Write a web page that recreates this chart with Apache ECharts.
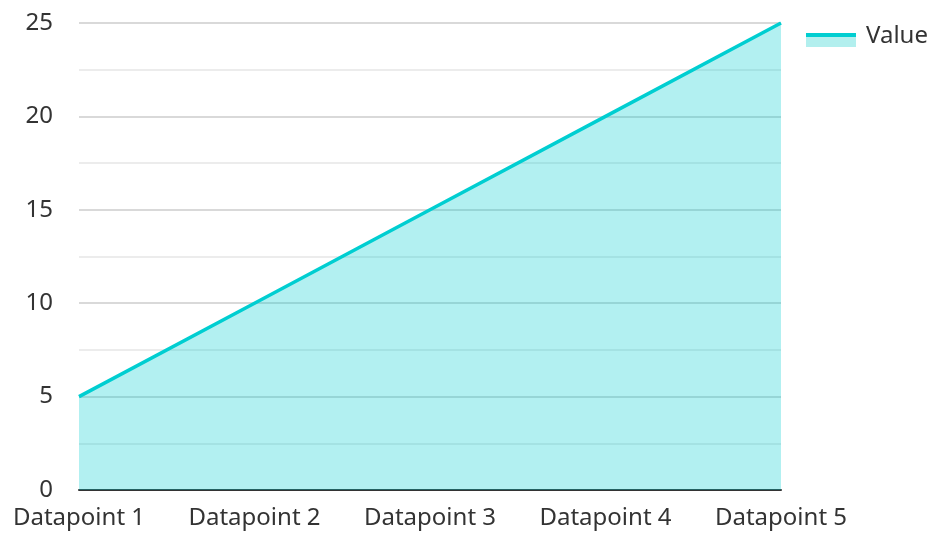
<!DOCTYPE html>
<html>
<head>
<meta charset="utf-8">
<script src="https://cdn.jsdelivr.net/npm/echarts@6/dist/echarts.min.js"></script>
<style>
  html, body { margin: 0; padding: 0; background: #fff; }
  #chart { width: 931px; height: 533px; }
</style>
</head>
<body>
<div id="chart"></div>
<script>
const categories = ['Datapoint 1', 'Datapoint 2', 'Datapoint 3', 'Datapoint 4', 'Datapoint 5']
const values = [5, 10, 15, 20, 25]
const seriesName = 'Value'

const lineColor = '#00CED1'
const chart = echarts.init(document.getElementById('chart'))

const textStyle = { fontFamily: 'Noto Sans', fontSize: 24, color: '#333' }

chart.setOption({
  animation: false,
  textStyle: textStyle,
  grid: { left: 79, right: 150, top: 23, bottom: 43 },
  // two stacked legends: light area swatch + thin line on its top edge
  // (the text box sticks out above the swatch, so the first one starts higher)
  legend: [
    {
      data: [seriesName],
      left: 806,
      top: 24.5,
      padding: 0,
      icon: 'rect',
      itemWidth: 50,
      itemHeight: 14,
      itemGap: 10,
      itemStyle: { color: '#b2efee' },
      formatter: name => '{t|' + name + '}',
      textStyle: {
        ...textStyle,
        rich: { t: { ...textStyle, padding: [0, 0, 7, 5] } }
      }
    },
    {
      data: [seriesName],
      left: 806,
      top: 33,
      padding: 0,
      icon: 'rect',
      itemWidth: 50,
      itemHeight: 4,
      itemStyle: { color: lineColor },
      formatter: () => '',
      textStyle: { fontSize: 1 }
    }
  ],
  xAxis: {
    type: 'category',
    data: categories,
    boundaryGap: false,
    axisLine: { lineStyle: { color: '#333', width: 2 } },
    axisTick: { show: false },
    axisLabel: { ...textStyle, margin: 16 },
    splitLine: { show: false }
  },
  yAxis: {
    type: 'value',
    min: 0,
    max: 25,
    interval: 5,
    axisLine: { show: false },
    axisTick: { show: false },
    axisLabel: { ...textStyle, margin: 26 },
    splitLine: { lineStyle: { color: '#ccc', width: 1.5 } },
    minorTick: { show: false, splitNumber: 2 },
    minorSplitLine: { show: true, lineStyle: { color: '#e6e6e6', width: 1.5 } }
  },
  series: [{
    name: seriesName,
    type: 'line',
    data: values,
    symbol: 'none',
    lineStyle: { color: lineColor, width: 3.5 },
    itemStyle: { color: lineColor },
    areaStyle: { color: lineColor, opacity: 0.3 }
  }]
})
</script>
</body>
</html>
